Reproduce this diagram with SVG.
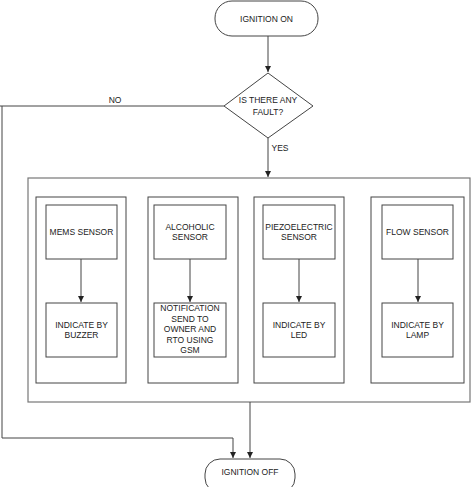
<svg xmlns="http://www.w3.org/2000/svg" width="474" height="487" viewBox="0 0 474 487">
<defs>
<marker id="ah" markerWidth="8" markerHeight="8" refX="6" refY="3" orient="auto" markerUnits="userSpaceOnUse">
<path d="M0,0 L6,3 L0,6 Z" fill="#222"/>
</marker>
<style>
.s{fill:#fff;stroke:#444;stroke-width:1}
.o{fill:none;stroke:#777;stroke-width:1.2}
.c{fill:none;stroke:#444;stroke-width:1}
.t{font-family:"Liberation Sans",Arial,sans-serif;font-size:8.5px;fill:#222;text-anchor:middle}
</style>
</defs>
<rect width="474" height="487" fill="#fff"/>
<g id="ignition-on">
<rect class="s" x="215" y="1" width="103" height="35" rx="17"/>
<text class="t" x="266.5" y="21.5">IGNITION ON</text>
</g>
<g id="fault">
<path class="s" d="M268,73 L313,106 L268,138 L224,106 Z"/>
<text class="t" x="268" y="103">IS THERE ANY</text>
<text class="t" x="268" y="115">FAULT?</text>
</g>
<g id="sensors-group">
<rect class="o" x="28" y="178" width="442" height="224"/>
</g>
<g id="col1">
<rect class="s" x="36" y="197" width="90" height="186"/>
</g>
<g id="col2">
<rect class="s" x="148" y="197" width="90" height="186"/>
</g>
<g id="col3">
<rect class="s" x="254" y="197" width="90" height="186"/>
</g>
<g id="col4">
<rect class="s" x="371" y="197" width="93" height="186"/>
</g>
<g id="mems">
<rect class="s" x="46" y="205" width="71" height="54"/>
<text class="t" x="81.5" y="235">MEMS SENSOR</text>
</g>
<g id="buzzer">
<rect class="s" x="46" y="303" width="71" height="54"/>
<text class="t" x="81.5" y="328">INDICATE BY</text>
<text class="t" x="81.5" y="338">BUZZER</text>
</g>
<g id="alcoholic">
<rect class="s" x="154" y="205" width="72" height="54"/>
<text class="t" x="190" y="230">ALCOHOLIC</text>
<text class="t" x="190" y="240">SENSOR</text>
</g>
<g id="notification">
<rect class="s" x="154" y="303" width="72" height="54"/>
<text class="t" x="190" y="311">NOTIFICATION</text>
<text class="t" x="190" y="321.5">SEND TO</text>
<text class="t" x="190" y="332">OWNER AND</text>
<text class="t" x="190" y="342.5">RTO USING</text>
<text class="t" x="190" y="353">GSM</text>
</g>
<g id="piezo">
<rect class="s" x="263" y="205" width="72" height="54"/>
<text class="t" x="299" y="230">PIEZOELECTRIC</text>
<text class="t" x="299" y="240">SENSOR</text>
</g>
<g id="led">
<rect class="s" x="263" y="303" width="72" height="54"/>
<text class="t" x="299" y="328">INDICATE BY</text>
<text class="t" x="299" y="338">LED</text>
</g>
<g id="flow">
<rect class="s" x="382" y="205" width="71" height="54"/>
<text class="t" x="417.5" y="235">FLOW SENSOR</text>
</g>
<g id="lamp">
<rect class="s" x="382" y="303" width="71" height="54"/>
<text class="t" x="417.5" y="328">INDICATE BY</text>
<text class="t" x="417.5" y="338">LAMP</text>
</g>
<g id="ignition-off">
<rect class="s" x="205" y="459" width="90" height="34" rx="15"/>
<text class="t" x="250" y="475">IGNITION OFF</text>
</g>
<g id="connectors">
<path class="c" d="M268,36 L268,72" marker-end="url(#ah)"/>
<path class="c" d="M224,106 L0,106"/>
<path class="c" d="M2,106 L2,438 L233,438 L233,458" marker-end="url(#ah)"/>
<path class="c" d="M268,138 L268,177" marker-end="url(#ah)"/>
<path class="c" d="M250,402 L250,458" marker-end="url(#ah)"/>
<path class="c" d="M81,259 L81,302" marker-end="url(#ah)"/>
<path class="c" d="M190,259 L190,302" marker-end="url(#ah)"/>
<path class="c" d="M299,259 L299,302" marker-end="url(#ah)"/>
<path class="c" d="M418,259 L418,302" marker-end="url(#ah)"/>
<text class="t" x="115" y="103">NO</text>
<text class="t" x="280" y="151">YES</text>
</g>
</svg>
